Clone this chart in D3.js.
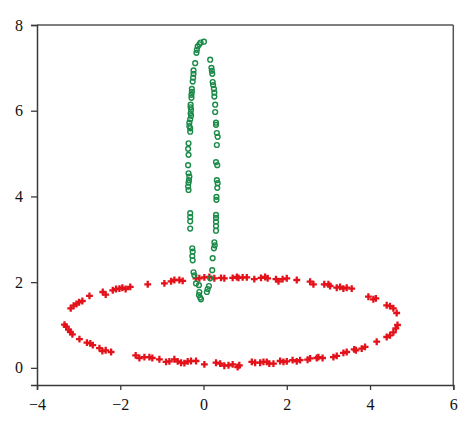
<!DOCTYPE html>
<html><head><meta charset="utf-8">
<script src="https://cdn.jsdelivr.net/npm/d3@7"></script>
<style>body{margin:0;background:#fff}</style>
</head><body>
<svg id="c" width="474" height="431"></svg>
<script>
const xTicks = [-4, -2, 0, 2, 4, 6];
const yTicks = [0, 2, 4, 6, 8];

// red series (ellipse) x,y
const redX = [-3.19,-3.12,-3.05,-2.99,-2.91,-2.74,-2.42,-2.35,-2.18,-2.10,-2.02,-1.95,-1.87,-1.76,-1.34,-0.94,-0.78,-0.70,-0.58,-0.50,-0.18,-0.10,0.02,0.14,0.26,0.42,0.50,0.70,0.80,0.84,0.94,1.04,1.22,1.38,1.48,1.54,1.74,1.80,1.90,2.00,2.24,2.56,2.64,2.90,3.00,3.04,3.20,3.28,3.36,3.44,3.56,3.96,4.08,4.14,4.40,4.48,4.56,4.64,
4.66,4.62,4.56,4.48,4.40,4.16,3.88,3.80,3.66,3.62,3.44,3.36,3.20,3.12,2.86,2.76,2.72,2.56,2.50,2.32,2.24,2.14,2.00,1.92,1.84,1.68,1.58,1.52,1.44,1.36,1.24,1.16,0.86,0.82,0.70,0.60,0.50,0.40,0.30,0.02,-0.18,-0.30,-0.38,-0.46,-0.54,-0.62,-0.70,-0.82,-0.90,-1.06,-1.23,-1.30,-1.42,-1.54,-1.63,
-2.22,-2.35,-2.43,-2.50,-2.66,-2.72,-2.80,-2.98,-3.15,-3.20,-3.24,-3.30,-3.34];
const redY = [1.39,1.45,1.49,1.53,1.56,1.68,1.77,1.71,1.81,1.84,1.85,1.87,1.84,1.89,1.95,1.97,2.02,2.05,2.05,2.03,2.09,2.09,2.11,2.12,2.09,2.10,2.09,2.10,2.12,2.10,2.11,2.11,2.07,2.10,2.12,2.09,2.07,2.02,2.07,2.09,2.05,2.01,1.95,1.95,1.95,1.91,1.87,1.89,1.85,1.87,1.85,1.66,1.60,1.62,1.46,1.44,1.39,1.28,
1.00,0.92,0.83,0.76,0.72,0.61,0.49,0.45,0.41,0.43,0.37,0.35,0.28,0.25,0.23,0.25,0.23,0.22,0.19,0.18,0.15,0.18,0.15,0.14,0.16,0.10,0.10,0.14,0.14,0.12,0.12,0.14,0.06,0.02,0.08,0.06,0.05,0.10,0.12,0.08,0.16,0.16,0.15,0.11,0.12,0.15,0.20,0.15,0.14,0.20,0.23,0.25,0.25,0.23,0.29,
0.37,0.41,0.39,0.46,0.53,0.57,0.59,0.67,0.78,0.84,0.89,0.96,1.01];

// green series (tall loop) x,y
const greenX = [0.01,-0.07,-0.10,-0.14,-0.16,-0.17,-0.20,
-0.24,-0.24,-0.25,-0.26,-0.28,-0.28,-0.29,-0.29,-0.31,-0.31,-0.30,-0.31,-0.30,-0.32,-0.34,-0.34,-0.32,-0.32,-0.36,-0.37,-0.36,-0.37,-0.36,-0.34,-0.35,-0.36,-0.37,-0.36,-0.32,-0.32,-0.32,-0.32,-0.27,-0.26,-0.27,-0.26,-0.24,-0.22,-0.18,-0.11,-0.10,-0.11,-0.08,-0.06,
0.08,0.10,0.13,0.16,0.21,0.22,0.25,0.27,0.26,0.30,0.30,0.30,0.30,0.30,0.31,0.31,0.33,0.34,0.32,0.33,0.30,0.32,0.34,0.32,0.30,0.30,0.28,0.28,0.26,0.26,0.25,0.23,0.22,0.21,0.20,0.19,0.16];
const greenY = [7.61,7.59,7.55,7.50,7.42,7.35,7.11,
6.94,6.86,6.77,6.68,6.51,6.44,6.37,6.30,6.14,6.08,6.02,5.94,5.88,5.80,5.72,5.64,5.59,5.51,5.24,5.11,4.97,4.73,4.54,4.46,4.38,4.32,4.23,4.15,3.61,3.52,3.42,3.25,2.79,2.71,2.61,2.51,2.23,2.16,1.97,1.93,1.77,1.70,1.64,1.60,
1.77,1.84,1.91,2.09,2.28,2.56,2.79,2.86,2.93,3.20,3.31,3.41,3.50,3.57,3.92,3.99,4.20,4.31,4.38,4.73,4.80,5.20,5.39,5.48,5.67,5.72,5.97,6.14,6.33,6.42,6.51,6.60,6.67,6.86,6.93,7.00,7.19];

const svg = d3.select('#c');
const L = 37, R = 453.3, T = 25, B = 385;
const x = d3.scaleLinear().domain([-4, 6]).range([L, R]);
const y = d3.scaleLinear().domain([-0.4, 8]).range([B, T]);
const axisColor = '#3a3a3a';
const fmt = d => (d < 0 ? '\u2212' + Math.abs(d) : String(d));

// frame top & right
svg.append('line').attr('x1', L).attr('x2', R).attr('y1', T).attr('y2', T)
  .attr('stroke', '#555').attr('stroke-width', 1.5);
svg.append('line').attr('x1', R).attr('x2', R).attr('y1', T).attr('y2', B)
  .attr('stroke', '#555').attr('stroke-width', 1.5);

const gx = svg.append('g').attr('transform', `translate(0,${B})`)
  .call(d3.axisBottom(x).tickValues(xTicks).tickFormat(fmt).tickSizeOuter(0).tickSize(5).tickPadding(9));
const gy = svg.append('g').attr('transform', `translate(${L},0)`)
  .call(d3.axisLeft(y).tickValues(yTicks).tickFormat(fmt).tickSizeOuter(0).tickSize(6).tickPadding(8));
[gx, gy].forEach(g => {
  g.attr('font-family', 'Liberation Serif').attr('font-size', 16);
  g.select('.domain').attr('stroke', axisColor).attr('stroke-width', 1.5);
  g.selectAll('.tick line').attr('stroke', axisColor).attr('stroke-width', 1.3);
  g.selectAll('text').attr('fill', '#111');
});

const redPts = redX.map((v, i) => [v, redY[i]]);
const greenPts = greenX.map((v, i) => [v, greenY[i]]);

const cross = d3.symbol().type(d3.symbolCross).size(26);
svg.append('g').selectAll('path').data(redPts).join('path')
  .attr('transform', d => `translate(${x(d[0])},${y(d[1])})`)
  .attr('d', cross).attr('fill', '#e3121a');

svg.append('g').selectAll('circle').data(greenPts).join('circle')
  .attr('cx', d => x(d[0])).attr('cy', d => y(d[1])).attr('r', 2.4)
  .attr('fill', 'none').attr('stroke', '#1a8a48').attr('stroke-width', 1.4);
</script>
</body></html>
